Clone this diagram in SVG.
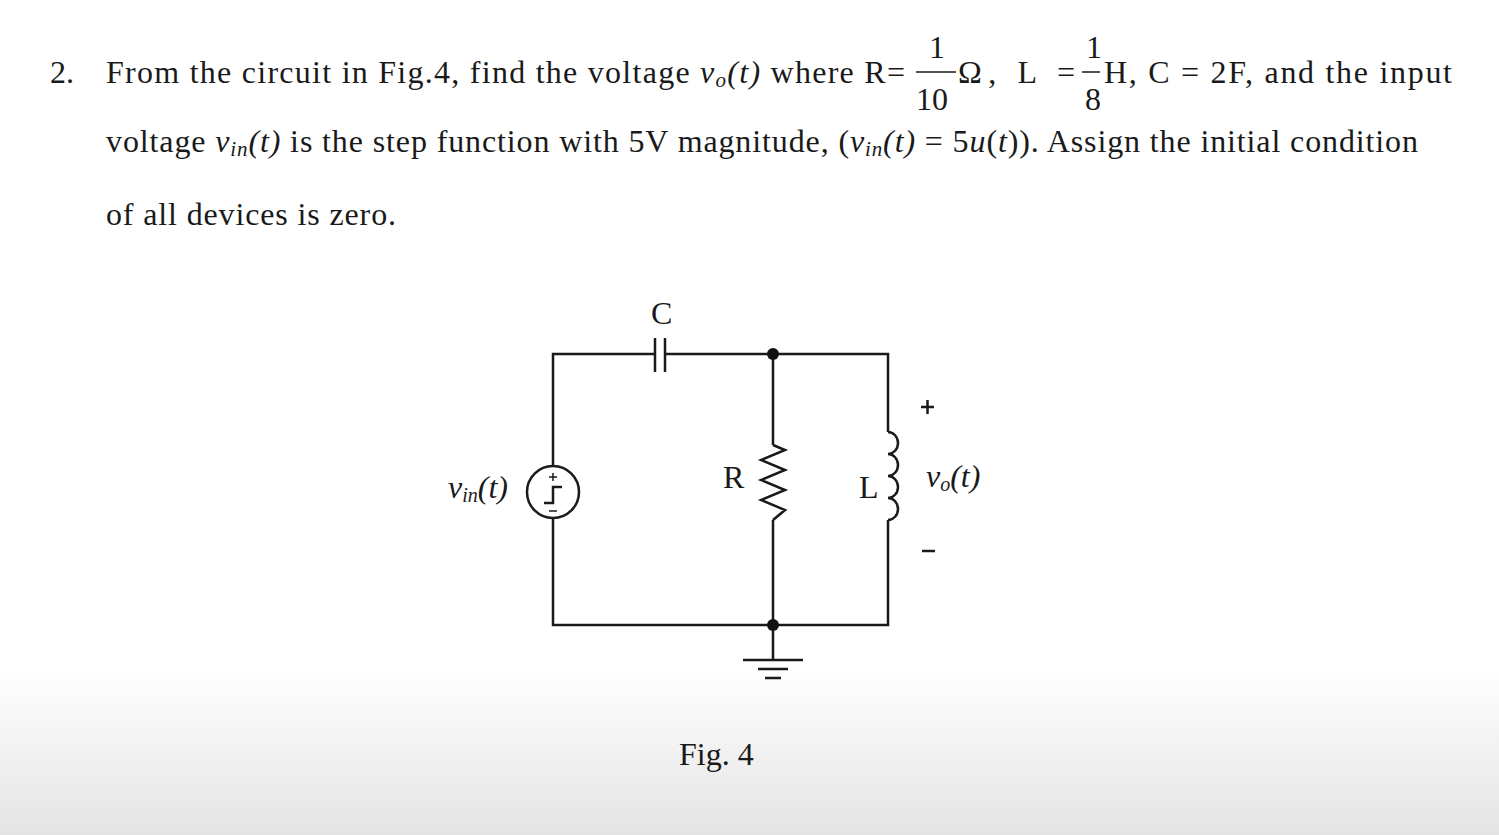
<svg xmlns="http://www.w3.org/2000/svg" width="1499" height="835" viewBox="0 0 1499 835">
<defs>
<linearGradient id="bg" x1="0" y1="0" x2="0" y2="1">
<stop offset="0" stop-color="#ffffff"/><stop offset="0.8" stop-color="#ffffff"/><stop offset="1" stop-color="#e4e4e4"/>
</linearGradient>
<style>
.t{font-family:"Liberation Serif",serif;font-size:32px;fill:#1a1a1a}
.w{stroke:#1a1a1a;stroke-width:2.5;fill:none}
.i{font-style:italic}
</style>
</defs>
<rect width="1499" height="835" fill="url(#bg)"/>
<g id="text">
<text class="t" x="50" y="83">2.</text>
<text class="t" x="106" y="83" textLength="799" lengthAdjust="spacing">From the circuit in Fig.4, find the voltage <tspan class="i">v<tspan font-size="21" dy="4">o</tspan><tspan dy="-4">(t)</tspan></tspan> where R=</text>
<text class="t" x="929" y="58" font-size="28">1</text>
<line x1="916" y1="72" x2="956" y2="72" stroke="#1a1a1a" stroke-width="1.5"/>
<text class="t" x="916" y="110" font-size="28">10</text>
<text class="t" x="958" y="83" textLength="117" lengthAdjust="spacing">Ω,  L =</text>
<text class="t" x="1086" y="58" font-size="28">1</text>
<line x1="1082" y1="72" x2="1100" y2="72" stroke="#1a1a1a" stroke-width="1.5"/>
<text class="t" x="1085" y="110" font-size="28">8</text>
<text class="t" x="1104" y="83" textLength="348" lengthAdjust="spacing">H, C = 2F, and the input</text>
<text class="t" x="106" y="152" textLength="1312" lengthAdjust="spacing">voltage <tspan class="i">v<tspan font-size="21" dy="4">in</tspan><tspan dy="-4">(t)</tspan></tspan> is the step function with 5V magnitude, (<tspan class="i">v<tspan font-size="21" dy="4">in</tspan><tspan dy="-4">(t)</tspan></tspan> = 5<tspan class="i">u</tspan>(<tspan class="i">t</tspan>)). Assign the initial condition</text>
<text class="t" x="106" y="225" textLength="290" lengthAdjust="spacing">of all devices is zero.</text>
</g>
<g id="connectors">
<path class="w" d="M655 354 H553 V466 M553 518 V625 H888 V520 M665 354 H888 V432 M773 354 V445 M773 520 V625 V660"/>
</g>
<g id="C"><path class="w" d="M655 338 V372 M665 338 V372"/><text class="t" x="651" y="324" font-size="30">C</text></g>
<g id="R"><path class="w" d="M773 445 L785 450 L761 460 L785 470 L761 480 L785 490 L761 500 L785 510 L773 520"/><text class="t" x="723" y="488" font-size="30">R</text></g>
<g id="L"><path class="w" d="M888 432 a10 11 0 0 1 0 22 a10 11 0 0 1 0 22 a10 11 0 0 1 0 22 a10 11 0 0 1 0 22"/><text class="t" x="859" y="498" font-size="30">L</text>
<path d="M921 407 H934 M927.5 400 V414" stroke="#1a1a1a" stroke-width="2.5"/><line x1="922" y1="551" x2="935" y2="551" stroke="#1a1a1a" stroke-width="2.5"/>
<text class="t i" x="926" y="487" font-size="30">v<tspan font-size="20" dy="4">o</tspan><tspan dy="-4">(t)</tspan></text></g>
<g id="Vin"><circle class="w" cx="553" cy="492" r="26"/><path class="w" d="M544 503 H553 V487 H562" stroke-width="2"/>
<path d="M549 477 H557 M553 473 V481 M549 511 H557" stroke="#1a1a1a" stroke-width="1.5"/>
<text class="t i" x="448" y="498" font-size="30">v<tspan font-size="20" dy="4">in</tspan><tspan dy="-4">(t)</tspan></text></g>
<g id="nodes"><circle cx="773" cy="354" r="6" fill="#111"/><circle cx="773" cy="625" r="6" fill="#111"/></g>
<g id="ground"><path class="w" d="M743 660 H803 M758 669 H788 M765 678 H781"/></g>
<text class="t" x="679" y="765" font-size="35">Fig. 4</text>
</svg>
